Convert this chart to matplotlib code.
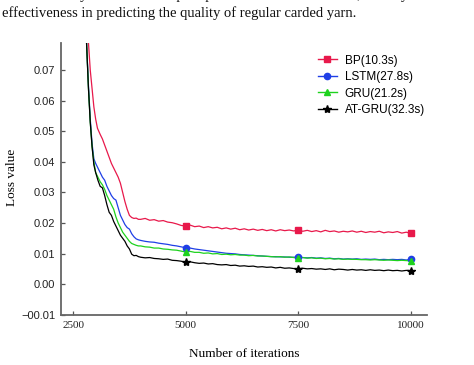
import numpy as np
import matplotlib
matplotlib.use("Agg")
import matplotlib.pyplot as plt
from matplotlib.lines import Line2D

# ---------------- data ----------------
tail_x = list(range(4000, 10001, 100))

bp_head_x = [2800, 2840, 2880, 2920, 2960, 3000, 3040, 3100, 3150, 3200, 3250, 3300, 3350,
             3400, 3450, 3500, 3550, 3600, 3650, 3700, 3750, 3800, 3850, 3900, 3950]
bp_head_y = [.095, .079, .070, .064, .058, .054, .051, .049, .0475, .0455, .0435, .0415, .0395,
             .038, .0365, .035, .033, .030, .027, .0245, .0225, .0218, .0215, .0216, .0212]
bp_tail_y = [.0212, .0215, .0209, .0211, .0206, .0208, .0203, .0201, .0197, .0192,
             .0190, .0193, .0188, .0190, .0185, .0188, .0184, .0186, .0181, .0184,
             .0180, .0183, .0178, .0181, .0177, .0180, .0176, .0179, .0175, .0178,
             .0174, .0178, .0175, .0177, .0174, .0177, .0173, .0176, .0172, .0175,
             .0171, .0176, .0172, .0174, .0170, .0173, .0171, .0174, .0170, .0173,
             .0169, .0172, .0170, .0173, .0168, .0171, .0169, .0172, .0167, .0170, .0166]

head_x = [2760, 2800, 2840, 2880, 2920, 2960, 3000, 3050, 3100, 3150, 3200, 3250, 3300,
          3350, 3400, 3450, 3500, 3550, 3600, 3650, 3700, 3750, 3800, 3850, 3900, 3950]

lstm_head_y = [.095, .078, .065, .054, .046, .041, .0395, .038, .0365, .035, .034, .032, .0305,
               .029, .028, .0275, .025, .0225, .021, .0195, .0185, .018, .0165, .0155, .0148, .0145]
lstm_tail_y = [.0143, .0140, .0138, .0137, .0134, .0132, .0130, .0127, .0125, .0122,
               .0119, .0118, .0115, .0113, .0111, .0109, .0107, .0105, .0103, .0101,
               .0100, .0099, .0097, .0096, .0095, .0094, .0093, .0092, .0091, .0090,
               .0090, .0089, .0089, .0088, .0088, .0089, .0087, .0086, .0087, .0085,
               .0086, .0084, .0085, .0083, .0084, .0082, .0083, .0082, .0083, .0081,
               .0082, .0081, .0082, .0080, .0081, .0080, .0081, .0080, .0081, .0079, .0081]

gru_head_y = [.095, .078, .064, .053, .045, .040, .0365, .035, .0335, .0325, .031, .029, .0275,
              .026, .0245, .022, .020, .0185, .017, .016, .0150, .0140, .0133, .0130, .0127, .0125]
gru_tail_y = [.0125, .0122, .0121, .0118, .0118, .0115, .0114, .0112, .0111, .0108,
              .0105, .0107, .0104, .0104, .0101, .0102, .0099, .0100, .0097, .0098,
              .0096, .0097, .0095, .0095, .0093, .0094, .0092, .0092, .0091, .0090,
              .0089, .0090, .0088, .0089, .0087, .0086, .0087, .0085, .0086, .0084,
              .0085, .0083, .0084, .0082, .0083, .0081, .0082, .0081, .0081, .0080,
              .0080, .0079, .0080, .0079, .0078, .0079, .0078, .0077, .0078, .0077, .0076]

atgru_head_y = [.095, .078, .064, .053, .045, .039, .0365, .034, .032, .0315, .029, .026, .0235,
                .0225, .0205, .019, .0175, .016, .015, .014, .0125, .0115, .0098, .0093, .0094, .0090]
atgru_tail_y = [.0088, .0086, .0087, .0084, .0083, .0081, .0082, .0078, .0077, .0075,
                .0071, .0073, .0070, .0068, .0069, .0066, .0067, .0064, .0063, .0064,
                .0061, .0062, .0059, .0060, .0058, .0059, .0056, .0057, .0055, .0056,
                .0053, .0055, .0052, .0053, .0051, .0050, .0052, .0050, .0051, .0049,
                .0050, .0048, .0050, .0047, .0049, .0048, .0046, .0048, .0046, .0047,
                .0045, .0047, .0045, .0046, .0044, .0046, .0044, .0045, .0043, .0045, .0044]

labels = ["BP(10.3s)", "LSTM(27.8s)", "GRU(21.2s)", "AT-GRU(32.3s)"]
colors = ["#e8194b", "#1f3fe6", "#1ed21e", "#000000"]
markers = ["s", "o", "^", "*"]
marker_iters = [5000, 7500, 10000]

xticks = [2500, 5000, 7500, 10000]
yticks = [-0.01, 0.00, 0.01, 0.02, 0.03, 0.04, 0.05, 0.06, 0.07]

header1 = "model's ability to discern complex patterns within the dataset, thereby substanti"
header2 = "effectiveness in predicting the quality of regular carded yarn."

# ---------------- figure ----------------
W, H = 474, 365
fig = plt.figure(figsize=(W / 100, H / 100), dpi=100)
ax = fig.add_axes([61 / W, 1 - 315 / H, (427 - 61) / W, (315 - 43) / H])

series = [
    (bp_head_x + tail_x, bp_head_y + bp_tail_y),
    (head_x + tail_x, lstm_head_y + lstm_tail_y),
    (head_x + tail_x, gru_head_y + gru_tail_y),
    (head_x + tail_x, atgru_head_y + atgru_tail_y),
]

handles = []
for (xs, ys), lab, c, m in zip(series, labels, colors, markers):
    ax.plot(xs, ys, color=c, lw=0.9, zorder=3)
    idx = [xs.index(v) for v in marker_iters]
    ms = 6 if m == "*" else 4.5
    ax.plot([xs[i] for i in idx], [ys[i] for i in idx], ls="none", marker=m,
            color=c, ms=ms, zorder=4)
    handles.append(Line2D([], [], color=c, lw=1.0, marker=m, ms=ms))

ax.set_xlim(2230, 10360)
ax.set_ylim(-0.0101, 0.0789)
ax.set_xticks(xticks)
ax.set_xticklabels([str(v) for v in xticks], family="Liberation Serif", fontsize=8, color="#222222")
ax.set_yticks(yticks)
ax.set_yticklabels([f"{v:.2f}".replace("-", "\u22120") for v in yticks],
                   family="Liberation Sans", fontsize=8, color="#222222")
ax.tick_params(direction="in", length=3, width=0.9, color="#555555", pad=4)

for s in ["top", "right"]:
    ax.spines[s].set_visible(False)
for s in ["left", "bottom"]:
    ax.spines[s].set_color("#666666")
    ax.spines[s].set_linewidth(1.3)

ax.set_xlabel("Number of iterations", family="Liberation Serif", fontsize=9.5, labelpad=13)
ax.set_ylabel("Loss value", family="Liberation Serif", fontsize=9.5)
ax.yaxis.set_label_coords((18 - 61) / 366, (315 - 177) / 272)

leg = fig.legend(handles, labels, loc="upper left", bbox_to_anchor=(307 / W, 1 - 44 / H),
                 frameon=False, prop={"family": "Liberation Sans", "size": 8.5},
                 handlelength=1.6, handletextpad=0.7, labelspacing=0.38)

fig.text(2 / W, 1 - (-1) / H, header1, family="Liberation Serif", fontsize=10.5,
         va="baseline", ha="left", color="#111111")
fig.text(2 / W, 1 - 17.5 / H, header2, family="Liberation Serif", fontsize=10.5,
         va="baseline", ha="left", color="#111111")

fig.savefig("out.png", dpi=100)
